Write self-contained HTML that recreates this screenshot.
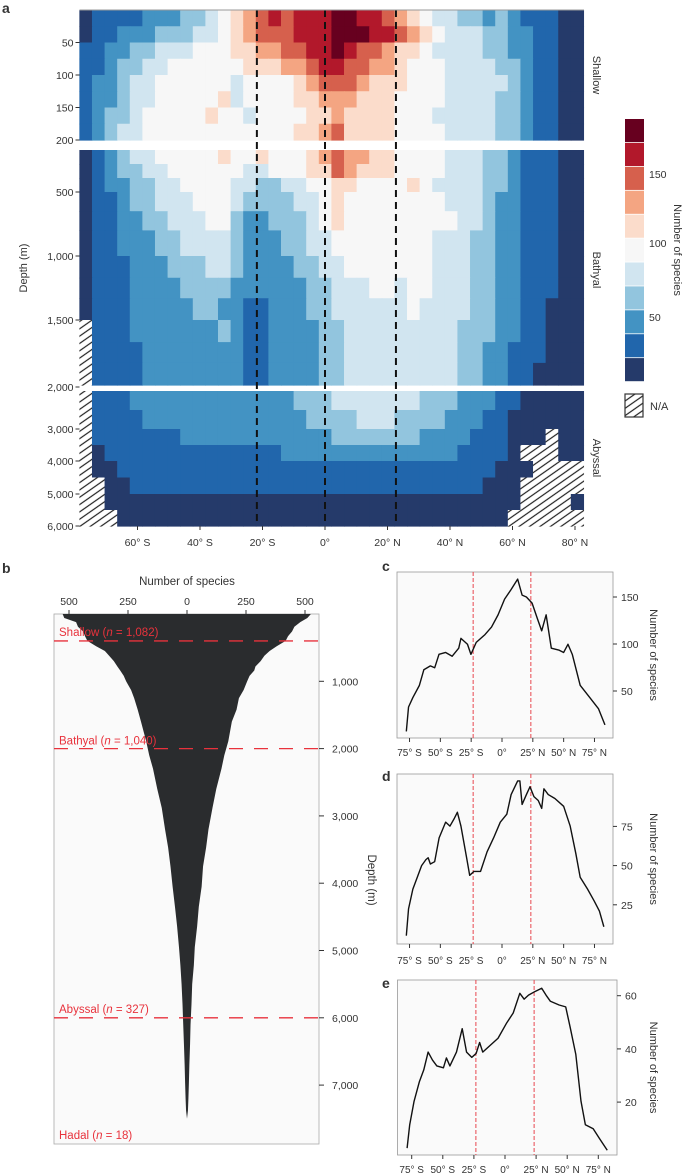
<!DOCTYPE html>
<html><head><meta charset="utf-8">
<style>
html,body{margin:0;padding:0;background:#fff;}
svg{display:block;font-family:"Liberation Sans",sans-serif;}
text{fill:#333;}
</style></head>
<body>
<svg id="fig" width="685" height="1175" viewBox="0 0 685 1175" xmlns="http://www.w3.org/2000/svg">
<defs>
<pattern id="hatch" patternUnits="userSpaceOnUse" width="6" height="6" patternTransform="rotate(-35)">
<rect width="6" height="6" fill="#fff"/><line x1="0" y1="3" x2="6" y2="3" stroke="#222" stroke-width="1.2"/>
</pattern>
</defs>
<g id="panelA"></g>
<g id="panelB"></g>
<g id="panelC"></g>
<g id="panelD"></g>
<g id="panelE"></g>
</svg>
<script>
// ===== Panel a data =====
// class codes: 0..9, A=10 (colour level), x = N/A ; 40 latitude columns per row
const shallowRows = [
"0111122233 4567898999 AA99876544 3323211100",
"0112223334 4567888999 AAA9987654 4433221100",
"1122334445 5566778899 A988766544 4433221100",
"1123344555 5556667789 9887765554 4443321100",
"1223445555 5545555678 8876665554 4444321100",
"1223445555 5645555667 7766655554 4443321100",
"1233455555 6554555566 7666655544 4443321100",
"1234455555 5555555667 8666655554 4443321100"
];
const bathyalRows = [
"0123445555 5655655567 8776655554 4433211100",
"0123344555 5554455566 8766655554 4433211100",
"0122334455 5544334455 6655556544 4433211100",
"0112334445 5543333445 6555555554 4432211100",
"0112233444 5532233345 6555555555 4432211100",
"0112223344 4432223344 5555555544 4332211100",
"0111222333 4432222334 4555555544 4332211100",
"0111222233 3322222233 4445545544 4332211100",
"0111222223 3221122233 4444445444 4332211000",
"x111222222 2321122223 3444444444 3332211000",
"x111122222 2221122223 3444444444 3322111000",
"x111122222 2221122223 3444444444 3322110000"
];
const abyssalRows = [
"x111222222 2222222333 4444444333 2221100000",
"x111122222 2222222233 3344433332 2211000000",
"x111111122 2222222222 3333333222 2111000x00",
"x011111111 1111112222 2222222222 11110xxx00",
"x001111111 1111111111 1111111111 111000xxxx",
"xx00111111 1111111111 1111111111 11000xxxxx",
"xx00000000 0000000000 0000000000 00000xxxx0",
"xxx0000000 0000000000 0000000000 0000xxxxxx"
];
const shallowEdges = [0,25,50,75,100,125,150,175,200];
const bathyalEdges = [200,300,400,500,650,800,1000,1170,1330,1500,1670,1830,2000];
const abyssalEdges = [2000,2500,3000,3500,4000,4500,5000,5500,6000];
const depthTicks = [50,100,150,200,500,1000,1500,2000,3000,4000,5000,6000];
const latTicksA = [-60,-40,-20,0,20,40,60,80];
const latTickLabelsA = ["60° S","40° S","20° S","0°","20° N","40° N","60° N","80° N"];
const dashLatsA = [-21.8,0,22.7];
const cbLabels = [150,100,50];
const palette = ["#253a6a","#2166ac","#4393c3","#92c5de","#d1e5f0","#f7f7f7","#fbdccb","#f4a582","#d6604d","#b2182b","#67001f"];

// ===== Panel b data =====
const bDepths = [0,60,120,190,260,330,400,480,550,620,700,780,840,920,1000,1130,1250,1420,1600,1890,2100,2300,2600,2880,3200,3470,3750,4050,4350,4640,4950,5220,5500,5800,6100,6390,6700,6970,7200,7380,7500];
const bLeft  = [527,520,470,462,440,432,422,385,348,330,310,295,283,268,258,237,224,209,195,173,160,144,126,107,93,80,70,61,51,42,34,28,23,19,16,13,10,8,6,4,0];
const bRight = [525,510,480,455,445,428,418,380,350,328,312,290,285,265,255,240,220,210,190,175,158,146,124,108,91,81,68,62,50,43,33,29,22,19,15,13,10,8,6,4,0];
const bZoneDepths = [400,2000,6000];
const bZoneLabels = ["Shallow","Bathyal","Abyssal","Hadal"];
const bZoneN = ["1,082","1,040","327","18"];
const bZoneLabelDepths = [270,1880,5870,7740];
const bDepthTicks = [1000,2000,3000,4000,5000,6000,7000];
const bSpeciesTicks = [-500,-250,0,250,500];

// ===== Panels c,d,e data =====
const cLat = [-77.6,-75.8,-72.3,-67,-63.4,-58.1,-54.6,-51.1,-45.7,-40.4,-35.1,-33.3,-28,-25.2,-20.9,-13.8,-8.5,-3.2,2.1,7.4,12.7,16.3,19.8,24.4,28.7,32.2,35.8,40,46.4,50,53.5,57,63.4,71.2,78.3,83.5];
const cVal = [7,33,43,56,72.6,76.7,74.7,89,91,87,95.5,106,99.7,89,101.7,110,118,131,147.7,158,169,152,150,143.5,127,114,131,95.5,93.4,91,99.7,89,56,43,31,14];
const dLat = [-77.6,-75.8,-72.3,-68.7,-65.2,-61.7,-59.9,-58.1,-54.6,-51,-45.7,-42.2,-38.6,-36.2,-33.3,-28.7,-26.2,-22.7,-17.4,-12.1,-6.8,-1.4,3.9,7.4,12.7,14.5,16.3,19.8,22.7,25.9,29.4,32.2,34,37.5,42.9,50,55.3,59.9,63.4,69.4,74.8,79,82.6];
const dVal = [5.3,22.4,35,42.6,50,53.8,55,51,52.5,67.7,77.7,75.2,80.2,84,75.2,55,43.8,46.3,46.3,58.8,67.7,77.7,82.8,95.3,104,104,89,95.3,100.3,94,91.5,86.5,99,95.3,92.8,87.8,75.2,57.6,42.6,35,27.4,21,11];
const eLat = [-78.7,-76.6,-73.1,-68.8,-65.3,-61.8,-58.3,-54.8,-49.5,-47.1,-44.3,-39,-34.4,-30.9,-26.7,-23.2,-20.4,-17.9,-12.7,-5.6,1.4,6.6,11.9,15.4,18.9,24.2,29.5,33,36.5,43.5,48.8,52.3,56.9,61.1,64.6,70.9,75.8,82.2];
const eVal = [2.7,11.5,20.3,27.7,32.1,38.8,35.8,33.6,32.9,36.6,33.6,38.8,47.6,38.8,36.8,38.3,42.4,38.8,41,44,49.8,53.5,60.9,58.7,60.2,61.6,62.8,60.2,57.9,56.5,55.8,48.3,38,20.3,11.5,10,6.4,1.9];
const latTicksCDE = [-75,-50,-25,0,25,50,75];
const latTickLabelsCDE = ["75° S","50° S","25° S","0°","25° N","50° N","75° N"];
const cTicks = [50,100,150];
const dTicks = [25,50,75];
const eTicks = [20,40,60];
const tropicLats = [-23.4,23.4];

const NS="http://www.w3.org/2000/svg";
function mk(parent,tag,attrs,text){const e=document.createElementNS(NS,tag);for(const k in attrs)e.setAttribute(k,attrs[k]);if(text!==undefined)e.textContent=text;parent.appendChild(e);return e;}
function interp(v,xs,ys){for(let i=0;i<xs.length-1;i++){if(v<=xs[i+1]||i===xs.length-2){const t=(v-xs[i])/(xs[i+1]-xs[i]);return ys[i]+t*(ys[i+1]-ys[i]);}}}

// ===== Panel a =====
(function(){
const g=document.getElementById('panelA');
const L=79.5,R=584,T=10,B=526;
const latMin=-78.6,latMax=82.7;
const xA=lat=>325+lat*3.125;
const ySh=d=>interp(d,[0,200],[10,140]);
const yBa=d=>interp(d,[200,500,1000,1500,2000],[150,192,256,320,385]);
const yAb=d=>interp(d,[2000,3000,4000,5000,6000],[391,429,461,494,526]);
const yTick=d=>d<=200?ySh(d):(d<2000?yBa(d):(d===2000?387:yAb(d)));
function drawBand(rows,edges,yf,name){
 rows.forEach((rowRaw,ri)=>{
  const row=rowRaw.replace(/ /g,'');
  const y0=yf(edges[ri]),y1=yf(edges[ri+1]);
  const n=40,w=(latMax-latMin)/n;
  for(let ci=0;ci<n;ci++){
   const ch=row[ci]||'0';
   const x0=xA(latMin+ci*w),x1=xA(latMin+(ci+1)*w);
   const fill=ch==='x'?'url(#hatch)':palette[ch==='A'?10:parseInt(ch)];
   const r=mk(g,'rect',{x:x0,y:y0,width:x1-x0+0.6,height:y1-y0+0.6,fill:fill});
   
   
  }
 });
}
drawBand(shallowRows,shallowEdges,ySh,'shallow');
drawBand(bathyalRows,bathyalEdges,yBa,'bathyal');
drawBand(abyssalRows,abyssalEdges,yAb,'abyssal');
dashLatsA.forEach(l=>{
 const ln=mk(g,'line',{x1:xA(l),x2:xA(l),y1:T,y2:B,stroke:'#111','stroke-width':2,'stroke-dasharray':'7,5'});
 
 
});
mk(g,'line',{x1:L,x2:R,y1:T,y2:T,stroke:'#999','stroke-width':1});
depthTicks.forEach(d=>{
 const y=yTick(d);
 mk(g,'line',{x1:L-4,x2:L,y1:y,y2:y,stroke:'#333'});
 const t=mk(g,'text',{x:L-6,y:y+4,'font-size':10.5,'text-anchor':'end'},d.toLocaleString('en-US'));
 
 
});
latTicksA.forEach((l,i)=>{
 const x=xA(l);
 mk(g,'line',{x1:x,x2:x,y1:B,y2:B+4,stroke:'#333'});
 const t=mk(g,'text',{x:x,y:546,'font-size':10.5,'text-anchor':'middle'},latTickLabelsA[i]);
 
 
});
mk(g,'text',{x:2,y:13,'font-size':14,'font-weight':'bold',fill:'#000',},'a');
mk(g,'text',{transform:'translate(27,268) rotate(-90)','font-size':11,'text-anchor':'middle',},'Depth (m)');
[['Shallow',75],['Bathyal',270],['Abyssal',458]].forEach(z=>{
 const t=mk(g,'text',{transform:`translate(593,${z[1]}) rotate(90)`,'font-size':11,'text-anchor':'middle'},z[0]);
 
 
});
const cbT=119,cbB=382,seg=(cbB-cbT)/11;
for(let i=0;i<11;i++){
 const r=mk(g,'rect',{x:625,y:cbT+i*seg,width:19,height:seg-0.8,fill:palette[10-i]});
 
 
}
const cbY=v=>interp(v,[50,100,150],[317,243,174]);
cbLabels.forEach(v=>{
 const t=mk(g,'text',{x:649,y:cbY(v)+4,'font-size':10.5},String(v));
 
 
});
mk(g,'text',{transform:'translate(674,250) rotate(90)','font-size':11,'text-anchor':'middle',},'Number of species');
mk(g,'rect',{x:625,y:394,width:18,height:23,fill:'url(#hatch)',stroke:'#333','stroke-width':1.2,});
mk(g,'text',{x:650,y:410,'font-size':11,},'N/A');
})();

// ===== Panel b =====
(function(){
const g=document.getElementById('panelB');
const L=54,R=319,T=614,B=1144;
const xB=s=>187+s*0.236;
const yB=d=>T+d*0.0673;
mk(g,'rect',{x:L,y:T,width:R-L,height:B-T,fill:'#fafafa',stroke:'#aaa','stroke-width':0.8,});
let pts=[];
bDepths.forEach((d,i)=>pts.push(xB(-bLeft[i])+','+yB(d)));
for(let i=bDepths.length-1;i>=0;i--)pts.push(xB(bRight[i])+','+yB(bDepths[i]));
const poly=mk(g,'polygon',{points:pts.join(' '),fill:'#2a2c2e'});


bZoneDepths.forEach(d=>{
 const ln=mk(g,'line',{x1:L,x2:R,y1:yB(d),y2:yB(d),stroke:'#e8323c','stroke-width':1.3,'stroke-dasharray':'14,11'});
 
 
});
bZoneLabels.forEach((z,i)=>{
 const t=mk(g,'text',{x:59,y:yB(bZoneLabelDepths[i])+4,'font-size':11.5,fill:'#e8323c',style:'fill:#e8323c'});
 t.innerHTML=z+' (<tspan font-style="italic" style="fill:#e8323c">n</tspan> = '+bZoneN[i]+')';
 
 
});
bDepthTicks.forEach(d=>{
 mk(g,'line',{x1:R,x2:R+5,y1:yB(d),y2:yB(d),stroke:'#333'});
 const t=mk(g,'text',{x:332,y:yB(d)+4,'font-size':10.5},d.toLocaleString('en-US'));
 
 
});
bSpeciesTicks.forEach(s=>{
 mk(g,'line',{x1:xB(s),x2:xB(s),y1:T-4,y2:T,stroke:'#333'});
 const t=mk(g,'text',{x:xB(s),y:605,'font-size':10.5,'text-anchor':'middle'},String(Math.abs(s)));
 
 
});
mk(g,'text',{x:187,y:585,'font-size':11.5,'text-anchor':'middle',},'Number of species');
mk(g,'text',{transform:'translate(368,880) rotate(90)','font-size':11.5,'text-anchor':'middle',},'Depth (m)');
mk(g,'text',{x:2,y:573,'font-size':14,'font-weight':'bold',fill:'#000',},'b');
})();

// ===== Panels c, d, e =====
function linePanel(id,label,labY,L,R,T,B,lat0x,pxDeg,yZero,pxUnit,lats,vals,ticks,xLabY){
 const g=document.getElementById(id);
 const x=l=>lat0x+l*pxDeg, y=v=>yZero-v*pxUnit;
 mk(g,'rect',{x:L,y:T,width:R-L,height:B-T,fill:'#fafafa',stroke:'#999','stroke-width':0.8,});
 tropicLats.forEach(l=>{
  const ln=mk(g,'line',{x1:x(l),x2:x(l),y1:T,y2:B,stroke:'#e8474f','stroke-width':1,'stroke-dasharray':'4,2'});
  
  
 });
 const p=mk(g,'polyline',{points:lats.map((l,i)=>x(l)+','+y(vals[i])).join(' '),fill:'none',stroke:'#111','stroke-width':1.4,'stroke-linejoin':'round'});
 
 
 ticks.forEach(v=>{
  mk(g,'line',{x1:R,x2:R+4,y1:y(v),y2:y(v),stroke:'#333'});
  const t=mk(g,'text',{x:R+8,y:y(v)+4,'font-size':10.5},String(v));
  
  
 });
 latTicksCDE.forEach((l,i)=>{
  mk(g,'line',{x1:x(l),x2:x(l),y1:B,y2:B+4,stroke:'#333'});
  const t=mk(g,'text',{x:x(l),y:xLabY,'font-size':10,'text-anchor':'middle'},latTickLabelsCDE[i]);
  
  
 });
 mk(g,'text',{transform:`translate(650,${(T+B)/2}) rotate(90)`,'font-size':11,'text-anchor':'middle',},'Number of species');
 mk(g,'text',{x:382,y:labY,'font-size':14,'font-weight':'bold',fill:'#000',},label);
}
linePanel('panelC','c',571,397,613,572,738,502,1.233,738,0.94,cLat,cVal,cTicks,756);
linePanel('panelD','d',781,397,613,774,944,502,1.233,944,1.568,dLat,dVal,dTicks,964);
linePanel('panelE','e',988,397.5,617,980,1155,505,1.244,1155.3,2.66,eLat,eVal,eTicks,1173);
</script>
</body></html>
